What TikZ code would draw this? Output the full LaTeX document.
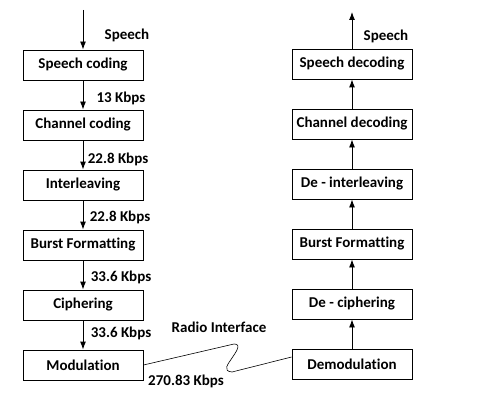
\documentclass[tikz,border=0pt]{standalone}
\usepackage{fontspec}
\setmainfont{Carlito}[Ligatures=NoCommon]
\usetikzlibrary{arrows.meta}
\begin{document}
\begin{tikzpicture}[x=1pt,y=-1pt,
  font=\fontsize{15}{18}\selectfont\bfseries,
  blk/.style={draw,line width=0.9pt,minimum width=120pt,minimum height=30pt,inner sep=0pt},
  lbl/.style={inner sep=0pt},
  arr/.style={line width=0.9pt,-{Latex[length=8pt,width=6pt]}},
  wave/.style={line width=0.6pt}]
\useasboundingbox (0,0) rectangle (502,406);
% left column
\node[blk] (sc)  at (83,65)  {Speech coding};
\node[blk] (cc)  at (83,125) {Channel coding};
\node[blk] (il)  at (83,185) {Interleaving};
\node[blk] (bf)  at (83,245) {Burst Formatting};
\node[blk] (ci)  at (83,305) {Ciphering};
\node[blk] (mod) at (83,365) {Modulation};
\coordinate (inL) at (83,10);
% right column
\node[blk] (sd)  at (352,64)  {Speech decoding};
\node[blk] (cd)  at (352,124) {Channel decoding};
\node[blk] (di)  at (352,184) {De - interleaving};
\node[blk] (bf2) at (352,244) {Burst Formatting};
\node[blk] (dc)  at (352,304) {De - ciphering};
\node[blk] (dem) at (352,364) {Demodulation};
\coordinate (outR) at (352,12);
% arrows
\draw[arr] (inL) -- (sc);
\draw[arr] (sc) -- (cc);
\draw[arr] (cc) -- (il);
\draw[arr] (il) -- (bf);
\draw[arr] (bf) -- (ci);
\draw[arr] (ci) -- (mod);
\draw[arr] (dem) -- (dc);
\draw[arr] (dc) -- (bf2);
\draw[arr] (bf2) -- (di);
\draw[arr] (di) -- (cd);
\draw[arr] (cd) -- (sd);
\draw[arr] (sd) -- (outR);
% labels
\node[lbl] (l0) at (127,35) {Speech};
\node[lbl] (l1) at (121,98) {13 Kbps};
\node[lbl] (l2) at (118,159) {22.8 Kbps};
\node[lbl] (l3) at (120,217) {22.8 Kbps};
\node[lbl] (l4) at (121,277) {33.6 Kbps};
\node[lbl] (l5) at (121,333) {33.6 Kbps};
\node[lbl] (l6) at (186,381) {270.83 Kbps};
\node[lbl] (ri) at (219,327) {Radio Interface};
\node[lbl] (r0) at (386,36) {Speech};
% radio link
\coordinate (w1) at (234,344);
\coordinate (w2) at (232,372);
\draw[wave] (mod.east) -- (w1) .. controls (242,344) and (236,352) .. (232,358)
  .. controls (228,364) and (222,371) .. (w2) -- ([yshift=7pt]dem.west);
\end{tikzpicture}
\end{document}
